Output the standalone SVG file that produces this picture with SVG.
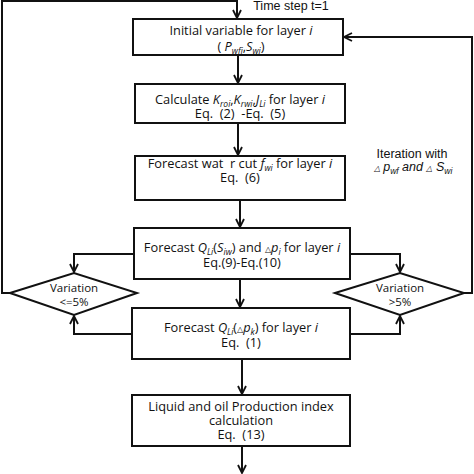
<svg xmlns="http://www.w3.org/2000/svg" width="474" height="474" viewBox="0 0 474 474">
<defs>
<marker id="arr" viewBox="0 0 10 10" refX="9" refY="5" markerWidth="10" markerHeight="10" markerUnits="userSpaceOnUse" orient="auto">
<path d="M1,1 L9,5 L1,9" fill="none" stroke="#111" stroke-width="1.8"/>
</marker>
</defs>
<style>
.box{fill:#fff;stroke:#111;stroke-width:2}
.ln{fill:none;stroke:#111;stroke-width:2}
.t{font-family:"Open Sans","Noto Sans",sans-serif;font-size:12.8px;fill:#111;text-anchor:middle;white-space:pre}
.s{font-size:11.5px}
.i{font-style:italic}
.sb{font-size:8.5px;font-style:italic}
.tri{font-size:8px}
.a{font-family:"Liberation Sans",sans-serif;font-size:12.5px}
</style>
<rect width="474" height="474" fill="#fff"/>
<g id="connectors">
<path class="ln" d="M10,293 H2 V1 H237 V18" stroke="#333" marker-end="url(#arr)"/>
<path class="ln" d="M464,293 H472 V37 H344" marker-end="url(#arr)"/>
<path class="ln" d="M238,55 V83" marker-end="url(#arr)"/>
<path class="ln" d="M238,123 V155" marker-end="url(#arr)"/>
<path class="ln" d="M240,200 V227" marker-end="url(#arr)"/>
<path class="ln" d="M240,279 V307" marker-end="url(#arr)"/>
<path class="ln" d="M134,254 H74 V272" marker-end="url(#arr)"/>
<path class="ln" d="M350,254 H400 V272" marker-end="url(#arr)"/>
<path class="ln" d="M132,334 H74 V316" marker-end="url(#arr)"/>
<path class="ln" d="M350,334 H400 V316" marker-end="url(#arr)"/>
<path class="ln" d="M242,359 V394" marker-end="url(#arr)"/>
<path class="ln" d="M242,446 V473" marker-end="url(#arr)"/>
</g>
<text class="t a" x="291" y="10">Time step t=1</text>
<g id="n1">
<rect class="box" x="133" y="19" width="210" height="36"/>
<text class="t" x="241" y="35">Initial variable for layer <tspan class="i">i</tspan></text>
<text class="t" x="241" y="51" xml:space="preserve">( <tspan class="i">P</tspan><tspan class="sb" dy="3">wfi</tspan><tspan dy="-3">,</tspan><tspan class="i">S</tspan><tspan class="sb" dy="3">wi</tspan><tspan dy="-3">)</tspan></text>
</g>
<g id="n2">
<rect class="box" x="135" y="84" width="210" height="39"/>
<text class="t" x="240" y="104" xml:space="preserve">Calculate <tspan class="i">K</tspan><tspan class="sb" dy="3">roi</tspan><tspan dy="-3">,</tspan><tspan class="i">K</tspan><tspan class="sb" dy="3">rwi</tspan><tspan dy="-3">,</tspan><tspan class="i">J</tspan><tspan class="sb" dy="3">Li</tspan><tspan dy="-3"> for layer </tspan><tspan class="i">i</tspan></text>
<text class="t" x="240" y="118" xml:space="preserve">Eq.  (2)  -Eq.  (5)</text>
</g>
<g id="n3">
<rect class="box" x="135" y="156" width="210" height="44"/>
<text class="t" x="240" y="168" xml:space="preserve">Forecast wat  r cut <tspan class="i">f</tspan><tspan class="sb" dy="3">wi</tspan><tspan dy="-3"> for layer </tspan><tspan class="i">i</tspan></text>
<text class="t" x="240" y="182" xml:space="preserve">Eq.  (6)</text>
</g>
<g id="n4">
<rect class="box" x="134" y="228" width="216" height="51"/>
<text class="t" x="242" y="252" xml:space="preserve">Forecast <tspan class="i">Q</tspan><tspan class="sb" dy="3">Li</tspan><tspan dy="-3">(</tspan><tspan class="i">S</tspan><tspan class="sb" dy="3">iw</tspan><tspan dy="-3">) and </tspan><tspan class="tri">△</tspan><tspan class="i">p</tspan><tspan class="sb" dy="3">i</tspan><tspan dy="-3"> for layer </tspan><tspan class="i">i</tspan></text>
<text class="t" x="242" y="267">Eq.(9)-Eq.(10)</text>
</g>
<g id="n5">
<rect class="box" x="132" y="308" width="218" height="51"/>
<text class="t" x="241" y="332" xml:space="preserve">Forecast <tspan class="i">Q</tspan><tspan class="sb" dy="3">Li</tspan><tspan dy="-3">(</tspan><tspan class="tri">△</tspan><tspan class="i">p</tspan><tspan class="sb" dy="3">k</tspan><tspan dy="-3">) for layer </tspan><tspan class="i">i</tspan></text>
<text class="t" x="241" y="347" xml:space="preserve">Eq.  (1)</text>
</g>
<g id="n6">
<rect class="box" x="132" y="395" width="218" height="51"/>
<text class="t" x="241" y="411">Liquid and oil Production index</text>
<text class="t" x="241" y="425">calculation</text>
<text class="t" x="241" y="439" xml:space="preserve">Eq.  (13)</text>
</g>
<g id="d1">
<polygon class="box" points="10,293 74,273 137,293 74,315"/>
<text class="t s" x="74" y="292">Variation</text>
<text class="t s" x="74" y="306">&lt;=5%</text>
</g>
<g id="d2">
<polygon class="box" points="335,293 400,273 464,293 400,315"/>
<text class="t s" x="400" y="292">Variation</text>
<text class="t s" x="400" y="306">&gt;5%</text>
</g>
<g id="iter">
<text class="t a" x="412" y="158">Iteration with</text>
<text class="t a i" x="413" y="171" xml:space="preserve"><tspan class="tri">△</tspan> <tspan>p</tspan><tspan class="sb" dy="3">wf</tspan><tspan dy="-3"> and </tspan><tspan class="tri">△</tspan> <tspan>S</tspan><tspan class="sb" dy="3">wi</tspan></text>
</g>
</svg>
